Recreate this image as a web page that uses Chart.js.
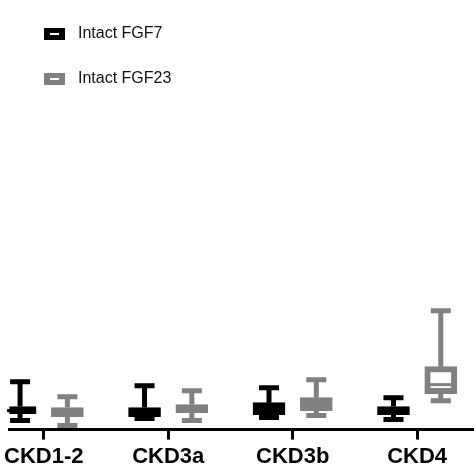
<!DOCTYPE html>
<html>
<head>
<script src="https://cdn.jsdelivr.net/npm/chart.js@4"></script>
<style>
  html, body { margin: 0; padding: 0; background: #fff; }
  #wrap { width: 474px; height: 474px; }
</style>
</head>
<body>
<div id="wrap"><canvas id="chart"></canvas></div>
<script>
// Data (units are arbitrary, 0 = x axis)
const stages = ['CKD1-2', 'CKD3a', 'CKD3b', 'CKD4'];
const seriesNames = ['Intact FGF7', 'Intact FGF23'];
const seriesColors = ['#000000', '#808080'];

const fgf7Min = [9, 11, 12, 10];
const fgf7Q1 = [16, 13, 15, 15];
const fgf7Median = [19, 17, 20, 19];
const fgf7Q3 = [23, 22, 27, 23];
const fgf7Max = [48, 44, 42, 32];

const fgf23Min = [4, 9, 14, 29];
const fgf23Q1 = [13, 17, 19, 36];
const fgf23Median = [18, 21, 25, 45];
const fgf23Q3 = [22, 25, 32, 63];
const fgf23Max = [33, 39, 50, 119];

const groupOffset = 0.19;

const makeBoxes = (q1, q3, off) => stages.map((s, i) => ({ x: i + 1 + off, y: [q1[i], q3[i]] }));

// whiskers, caps, medians and legend drawn from the scales
const boxExtras = {
  id: 'boxExtras',
  afterDatasetsDraw(chart) {
    const ctx = chart.ctx;
    const xs = chart.scales.x;
    const ys = chart.scales.y;
    const groups = [
      [fgf7Min, fgf7Median, fgf7Max, fgf7Q1, fgf7Q3, -groupOffset],
      [fgf23Min, fgf23Median, fgf23Max, fgf23Q1, fgf23Q3, groupOffset]
    ];
    ctx.save();
    groups.forEach((g, si) => {
      const [mn, md, mx, q1, q3, off] = g;
      stages.forEach((s, i) => {
        const cx = xs.getPixelForValue(i + 1 + off);
        const capW = 10;
        ctx.strokeStyle = seriesColors[si];
        ctx.lineWidth = 5;
        ctx.beginPath();
        ctx.moveTo(cx, ys.getPixelForValue(q3[i]));
        ctx.lineTo(cx, ys.getPixelForValue(mx[i]));
        ctx.moveTo(cx - capW, ys.getPixelForValue(mx[i]));
        ctx.lineTo(cx + capW, ys.getPixelForValue(mx[i]));
        ctx.moveTo(cx, ys.getPixelForValue(q1[i]));
        ctx.lineTo(cx, ys.getPixelForValue(mn[i]));
        ctx.moveTo(cx - capW, ys.getPixelForValue(mn[i]));
        ctx.lineTo(cx + capW, ys.getPixelForValue(mn[i]));
        ctx.stroke();
        ctx.lineWidth = 3;
        ctx.beginPath();
        ctx.moveTo(cx - 13, ys.getPixelForValue(md[i]));
        ctx.lineTo(cx + 13, ys.getPixelForValue(md[i]));
        ctx.stroke();
      });
    });
    // legend
    ctx.font = '16px "Liberation Sans", Arial, sans-serif';
    ctx.textBaseline = 'middle';
    seriesNames.forEach((name, i) => {
      const y = 34 + i * 45;
      ctx.fillStyle = seriesColors[i];
      ctx.fillRect(44, y - 6, 21, 12);
      ctx.fillStyle = '#fff';
      ctx.fillRect(50, y - 1, 9, 2);
      ctx.fillStyle = '#111';
      ctx.fillText(name, 78, y);
    });
    ctx.restore();
  }
};

const ctx = document.getElementById('chart').getContext('2d');
new Chart(ctx, {
  type: 'bar',
  data: {
    datasets: [
      {
        label: seriesNames[0],
        data: makeBoxes(fgf7Q1, fgf7Q3, -groupOffset),
        backgroundColor: '#000000',
        borderColor: seriesColors[0],
        borderWidth: 6,
        borderSkipped: false,
        barThickness: 32,
        grouped: false
      },
      {
        label: seriesNames[1],
        data: makeBoxes(fgf23Q1, fgf23Q3, groupOffset),
        backgroundColor: ['#808080', '#808080', '#808080', '#ffffff'],
        borderColor: seriesColors[1],
        borderWidth: 6,
        borderSkipped: false,
        barThickness: 32,
        grouped: false
      }
    ]
  },
  options: {
    responsive: true,
    maintainAspectRatio: false,
    animation: false,
    layout: { padding: 0 },
    plugins: {
      legend: { display: false },
      tooltip: { enabled: false }
    },
    scales: {
      x: {
        type: 'linear',
        offset: false,
        min: 0.724,
        max: 4.457,
        afterBuildTicks: (axis) => {
          axis.ticks = stages.map((s, i) => ({ value: i + 1 }));
        },
        ticks: {
          callback: (v) => stages[v - 1],
          color: '#000',
          font: { family: '"Liberation Sans", Arial, sans-serif', size: 22, weight: 'bold' },
          padding: 4,
          maxRotation: 0,
          autoSkip: false
        },
        border: { display: true, color: '#000', width: 3 },
        grid: { offset: false, drawOnChartArea: false, drawTicks: true, tickLength: 10, lineWidth: 3, color: '#000' }
      },
      y: {
        display: false,
        min: 0,
        max: 430
      }
    }
  },
  plugins: [boxExtras]
});
</script>
</body>
</html>
